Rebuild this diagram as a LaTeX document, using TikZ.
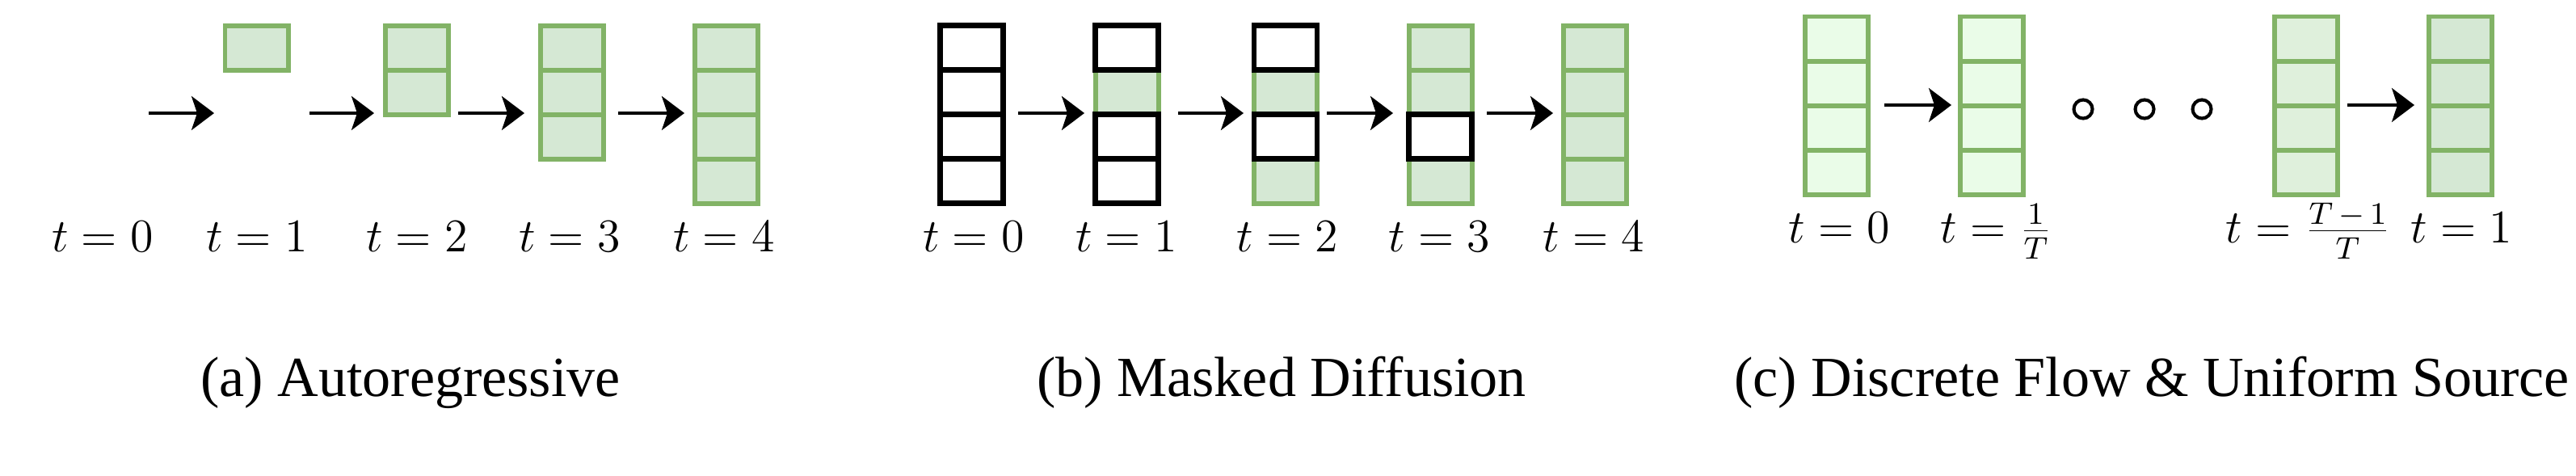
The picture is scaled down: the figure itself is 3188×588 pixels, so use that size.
\documentclass[tikz,border=0pt]{standalone}
\usepackage{fontspec}
\newfontfamily\capfont{Liberation Serif}
\usetikzlibrary{arrows.meta}
\definecolor{gfill}{HTML}{D5E8D4}
\definecolor{gline}{HTML}{82B366}
\definecolor{gfillA}{HTML}{EAFCE8}
\definecolor{gfillB}{HTML}{DFF0DC}
\tikzset{
 cellbase/.style={rectangle, inner sep=0pt, minimum width=16.14pt, minimum height=11.38pt},
 gcell/.style={cellbase, draw=gline, fill=gfill, line width=1.24pt},
 gcellA/.style={gcell, fill=gfillA},
 gcellB/.style={gcell, fill=gfillB},
 kcell/.style={cellbase, draw=black, fill=white, line width=1.3pt},
 flow/.style={line width=0.66pt, -{Stealth[length=5.8pt,width=8.7pt,inset=1.45pt]}},
 tlabel/.style={anchor=base, inner sep=0pt, font=\fontsize{12}{14}\selectfont},
 capt/.style={anchor=base, inner sep=0pt, font=\capfont\fontsize{14.5}{17}\selectfont},
 ring/.style={circle, draw, line width=0.85pt, minimum size=4.76pt, inner sep=0pt},
}
\begin{document}
\begin{tikzpicture}[x=0.2069pt,y=-0.2069pt]
\useasboundingbox (0,0) rectangle (3188,588);

% ---------- (a) Autoregressive ----------
\node[gcell] (a1-1) at (317.5,59) {};
\foreach \i in {1,2} \node[gcell] (a2-\i) at (516,{59+55*(\i-1)}) {};
\foreach \i in {1,2,3} \node[gcell] (a3-\i) at (708,{59+55*(\i-1)}) {};
\foreach \i in {1,2,3,4} \node[gcell] (a4-\i) at (899,{59+55*(\i-1)}) {};

\coordinate (as1) at (184,140); \coordinate (ae1) at (265,140);
\coordinate (as2) at (383,140); \coordinate (ae2) at (463,140);
\coordinate (as3) at (567,140); \coordinate (ae3) at (649,140);
\coordinate (as4) at (765,140); \coordinate (ae4) at (847,140);
\foreach \k in {1,2,3,4} \draw[flow] (as\k) -- (ae\k);

\node[tlabel] (la0) at (127,311) {$t=0$};
\node[tlabel] (la1) at (318,311) {$t=1$};
\node[tlabel] (la2) at (516,311) {$t=2$};
\node[tlabel] (la3) at (705,311) {$t=3$};
\node[tlabel] (la4) at (896,311) {$t=4$};

% ---------- (b) Masked Diffusion ----------
\foreach \i in {1,2,3,4} \node[kcell] (b0-\i) at (1202.5,{59+55*(\i-1)}) {};
\foreach \i in {2} \node[gcell] (b1-\i) at (1394.5,{59+55*(\i-1)}) {};
\foreach \i in {1,3,4} \node[kcell] (b1-\i) at (1394.5,{59+55*(\i-1)}) {};
\foreach \i in {2,4} \node[gcell] (b2-\i) at (1591,{59+55*(\i-1)}) {};
\foreach \i in {1,3} \node[kcell] (b2-\i) at (1591,{59+55*(\i-1)}) {};
\foreach \i in {1,2,4} \node[gcell] (b3-\i) at (1782.5,{59+55*(\i-1)}) {};
\foreach \i in {3} \node[kcell] (b3-\i) at (1782.5,{59+55*(\i-1)}) {};
\foreach \i in {1,2,3,4} \node[gcell] (b4-\i) at (1974,{59+55*(\i-1)}) {};

\coordinate (bs1) at (1260,140); \coordinate (be1) at (1342,140);
\coordinate (bs2) at (1458,140); \coordinate (be2) at (1539,140);
\coordinate (bs3) at (1642,140); \coordinate (be3) at (1724,140);
\coordinate (bs4) at (1840,140); \coordinate (be4) at (1922,140);
\foreach \k in {1,2,3,4} \draw[flow] (bs\k) -- (be\k);

\node[tlabel] (lb0) at (1205,311) {$t=0$};
\node[tlabel] (lb1) at (1394,311) {$t=1$};
\node[tlabel] (lb2) at (1593,311) {$t=2$};
\node[tlabel] (lb3) at (1781,311) {$t=3$};
\node[tlabel] (lb4) at (1972,311) {$t=4$};

% ---------- (c) Discrete Flow & Uniform Source ----------
\foreach \i in {1,2,3,4} \node[gcellA] (c0-\i) at (2273,{48+55*(\i-1)}) {};
\foreach \i in {1,2,3,4} \node[gcellA] (c1-\i) at (2464.5,{48+55*(\i-1)}) {};
\foreach \i in {1,2,3,4} \node[gcellB] (c2-\i) at (2853.5,{48+55*(\i-1)}) {};
\foreach \i in {1,2,3,4} \node[gcell] (c3-\i) at (3044.5,{48+55*(\i-1)}) {};

\coordinate (cs1) at (2332,130); \coordinate (ce1) at (2415,130);
\coordinate (cs2) at (2905,130); \coordinate (ce2) at (2988,130);
\foreach \k in {1,2} \draw[flow] (cs\k) -- (ce\k);

\node[ring] (d1) at (2578,135) {};
\node[ring] (d2) at (2654,135) {};
\node[ring] (d3) at (2725,135) {};

\node[tlabel] (lc0) at (2276,300) {$t=0$};
\node[tlabel] (lc1) at (2471,300) {$t=\frac{1}{T}$};
\node[tlabel] (lc2) at (2857,300) {$t=\frac{T\mkern3mu-\mkern3mu1}{T}$};
\node[tlabel] (lc3) at (3046,300) {$t=1$};

% ---------- captions ----------
\node[capt] (capa) at (508,490) {(a) Autoregressive};
\node[capt] (capb) at (1586,490) {(b) Masked Diffusion};
\node[capt] (capc) at (2663,490) {(c) Discrete Flow \& Uniform Source};
\end{tikzpicture}
\end{document}
